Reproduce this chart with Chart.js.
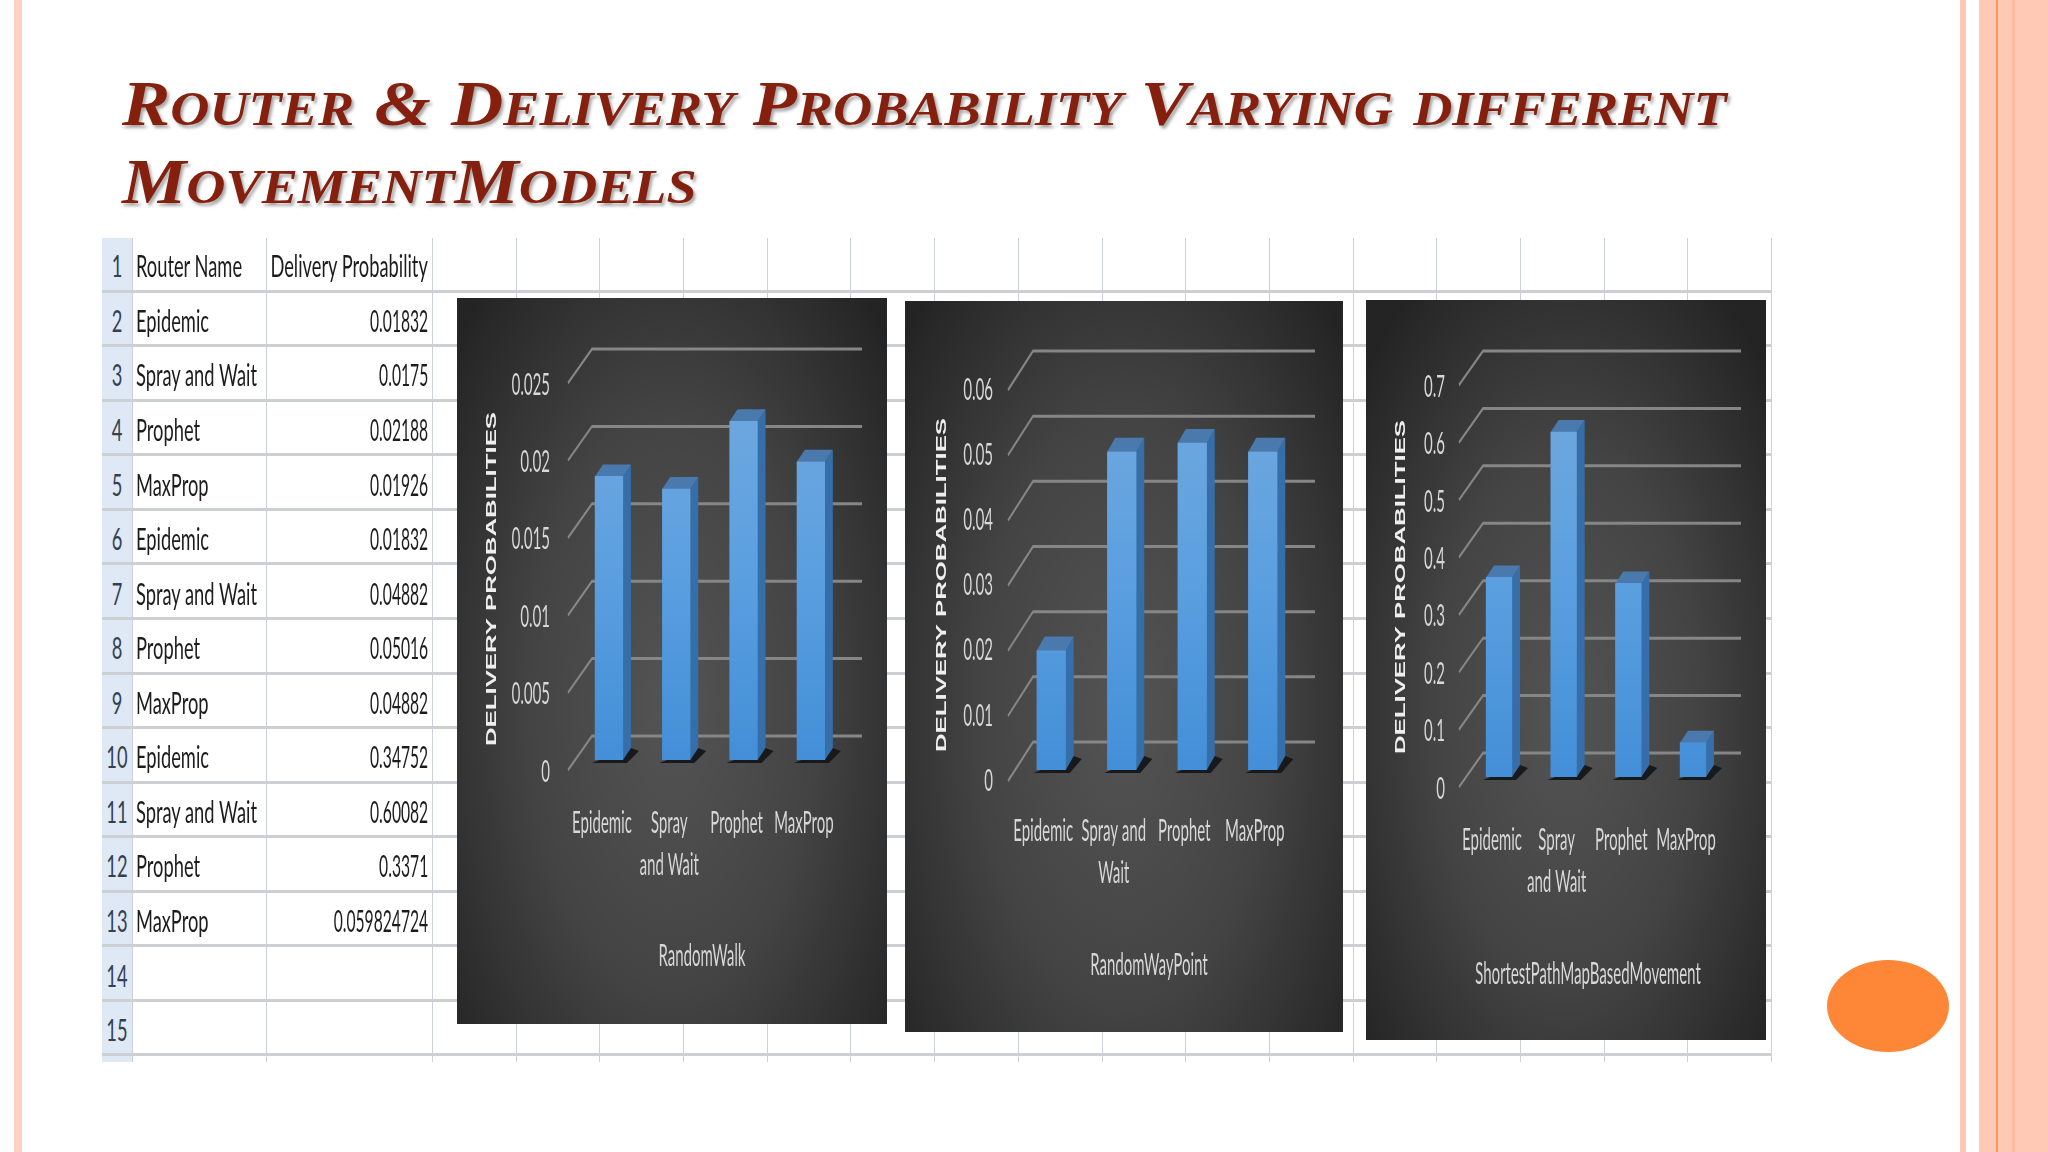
<!DOCTYPE html>
<html>
<head>
<meta charset="utf-8">
<title>Router & Delivery Probability</title>
<script src="https://cdn.jsdelivr.net/npm/chart.js@4"></script>
<style>
html, body { margin: 0; padding: 0; background: #fff; width: 2048px; height: 1152px; overflow: hidden; }
.stripe { position: absolute; top: 0; height: 1152px; }
h1 {
    position: absolute; left: 122px; top: 67px; margin: 0; white-space: nowrap; word-spacing: 6px;
    font: italic bold 48px/73px "Liberation Serif", serif; text-transform: uppercase;
    color: #85200f; text-shadow: 2px 3px 3px rgba(0, 0, 0, 0.35);
    transform: scaleX(1.13); transform-origin: left top;
}
h1 b { font-size: 64px; }
#planilha {
    position: absolute; left: 102px; top: 238px; display: grid;
    grid-template-columns: 31px 134px 166px repeat(16, 83.7px);
    grid-template-rows: repeat(15, 54.57px) 6px;
    font: 31px Lato, sans-serif; color: #1c1c1c; filter: blur(0.5px);
}
#planilha div {
    box-sizing: border-box; border-right: 1px solid #ccd0d8; border-bottom: 3px solid #cdd0d3;
    display: flex; align-items: center; overflow: visible; padding-top: 3px;
}
#planilha div.fim { border-bottom: 0; }
#planilha div.cab { background: #dfe8f5; color: #33414f; justify-content: center; }
#planilha div.dir { justify-content: flex-end; padding-right: 4px; }
#planilha div.esq { padding-left: 3px; }
#planilha span { flex: none; display: inline-block; transform: scaleX(0.59); }
#planilha .dir span.num { transform: scaleX(0.505); }
.cab span { transform-origin: center; }
.dir span { transform-origin: right center; }
.esq span { transform-origin: left center; }
canvas { position: absolute; transform-origin: left top; filter: blur(0.6px); }
#bola { position: absolute; left: 1827px; top: 960px; width: 122px; height: 92px; border-radius: 50%; background: #fe8637; }
</style>
</head>
<body>
<div class="stripe" style="left:14px;width:8px;background:#ffd0c4"></div>
<div class="stripe" style="left:1960px;width:6px;background:#ffc9b5"></div>
<div class="stripe" style="left:1979px;width:69px;background:#ffc9b5"></div>
<div class="stripe" style="left:1996px;width:2px;background:#fb9a5f"></div>
<div class="stripe" style="left:2012px;width:3px;background:#fdbb9f"></div>
<h1><b>R</b>outer <b>&amp;</b> <b>D</b>elivery <b>P</b>robability <b>V</b>arying different<br><b>M</b>ovement<b>M</b>odels</h1>
<div id="planilha"></div>
<canvas id="grafico1"></canvas>
<canvas id="grafico2"></canvas>
<canvas id="grafico3"></canvas>
<div id="bola"></div>
<script>
// Sheet contents
const colunaRouter = ["Router Name", "Epidemic", "Spray and Wait", "Prophet", "MaxProp", "Epidemic", "Spray and Wait", "Prophet", "MaxProp", "Epidemic", "Spray and Wait", "Prophet", "MaxProp"];
const colunaProb = ["Delivery Probability", "0.01832", "0.0175", "0.02188", "0.01926", "0.01832", "0.04882", "0.05016", "0.04882", "0.34752", "0.60082", "0.3371", "0.059824724"];

// Chart values
const valoresRandomWalk = [0.01832, 0.0175, 0.02188, 0.01926];
const valoresWayPoint = [0.01832, 0.04882, 0.05016, 0.04882];
const valoresShortest = [0.34752, 0.60082, 0.3371, 0.059824724];

const categorias1 = ["Epidemic", ["Spray", "and Wait"], "Prophet", "MaxProp"];
const categorias2 = ["Epidemic", ["Spray and", "Wait"], "Prophet", "MaxProp"];
const categorias3 = ["Epidemic", ["Spray", "and Wait"], "Prophet", "MaxProp"];

const ticks1 = [0, 0.005, 0.01, 0.015, 0.02, 0.025];
const ticks2 = [0, 0.01, 0.02, 0.03, 0.04, 0.05, 0.06];
const ticks3 = [0, 0.1, 0.2, 0.3, 0.4, 0.5, 0.6, 0.7];

const tituloY = "DELIVERY PROBABILITIES";

// The source picture is a screenshot squeezed sideways, so each canvas is drawn wide and squeezed by css
const APERTO = 0.5;
const FONTE = 'Lato, sans-serif';

// Page geometry of each panel, in screen px
const paineis = [
    { id: 'grafico1', nome: 'RandomWalk', valores: valoresRandomWalk, categorias: categorias1, ticks: ticks1,
      l: 457, r: 887, t: 298, b: 1024, plotL: 575.3, plotR: 844.5, plotT: 373, plotB: 760,
      frenteX: 568, fundoX: 592, gridR: 862, frenteY: 10, fundoY: -24, tickR: 554, tickDy: 12, catDx: -7, catPad: 35,
      barra: 28, dx: 8, dy: 12, tituloYx: 492, tituloYy: 579, tituloXx: 702, tituloXy: 956 },
    { id: 'grafico2', nome: 'RandomWayPoint', valores: valoresWayPoint, categorias: categorias2, ticks: ticks2,
      l: 905, r: 1343, t: 301, b: 1032, plotL: 1016, plotR: 1298, plotT: 379, plotB: 770,
      frenteX: 1008, fundoX: 1033, gridR: 1315, frenteY: 11, fundoY: -28, tickR: 997, tickDy: 11, catDx: -8, catPad: 33,
      barra: 29, dx: 8, dy: 14, tituloYx: 942, tituloYy: 585, tituloXx: 1149, tituloXy: 965 },
    { id: 'grafico3', nome: 'ShortestPathMapBasedMovement', valores: valoresShortest, categorias: categorias3, ticks: ticks3,
      l: 1366, r: 1766, t: 300, b: 1040, plotL: 1466.7, plotR: 1725.3, plotT: 375, plotB: 777,
      frenteX: 1459, fundoX: 1483, gridR: 1741, frenteY: 10, fundoY: -24, tickR: 1449, tickDy: 12, catDx: -7, catPad: 35,
      barra: 26, dx: 8, dy: 12, tituloYx: 1401, tituloYy: 587, tituloXx: 1588, tituloXy: 974 }
];

// Builds the sheet behind the charts
function montarPlanilha() {
    const caixa = document.getElementById('planilha');
    for (let lin = 0; lin < 16; lin++) {
        for (let col = 0; col < 19; col++) {
            const c = document.createElement('div');
            if (lin === 15) c.classList.add('fim');
            let texto = '';
            if (col === 0) {
                c.classList.add('cab');
                if (lin < 15) texto = String(lin + 1);
            } else if (col === 1) {
                c.classList.add('esq');
                texto = colunaRouter[lin] || '';
            } else if (col === 2) {
                c.classList.add('dir');
                texto = colunaProb[lin] || '';
            }
            if (texto) {
                const s = document.createElement('span');
                s.textContent = texto;
                if (col === 2 && lin > 0) s.classList.add('num');
                c.appendChild(s);
            }
            caixa.appendChild(c);
        }
    }
}

// Dark panel, fake 3d grid, bar sides and the free-placed axis titles
const plugin3d = {
    id: 'plugin3d',
    beforeDraw(chart, args, opts) {
        const ctx = chart.ctx;
        const w = chart.width, h = chart.height;
        const g = ctx.createRadialGradient(w / 2, h * 0.56, 0, w / 2, h * 0.56, Math.max(w, h) * 0.66);
        g.addColorStop(0, '#545454');
        g.addColorStop(0.5, '#444444');
        g.addColorStop(1, '#242424');
        ctx.save();
        ctx.fillStyle = g;
        ctx.fillRect(0, 0, w, h);
        ctx.restore();
    },
    beforeDatasetsDraw(chart, args, opts) {
        const p = opts.painel, ctx = chart.ctx;
        const esc = chart.scales.y;
        const offX = v => (v - p.l) / APERTO;
        ctx.save();
        ctx.strokeStyle = '#868686';
        ctx.lineWidth = 3;
        p.ticks.forEach(v => {
            const y = esc.getPixelForValue(v);
            ctx.beginPath();
            ctx.moveTo(offX(p.frenteX), y + p.frenteY);
            ctx.lineTo(offX(p.fundoX), y + p.fundoY);
            ctx.lineTo(offX(p.gridR), y + p.fundoY);
            ctx.stroke();
        });

        const dx = p.dx / APERTO, dy = p.dy;
        chart.getDatasetMeta(0).data.forEach(b => {
            const esq = b.x - b.width / 2, dir = b.x + b.width / 2;
            // shadow on the floor
            ctx.fillStyle = '#17191c';
            ctx.beginPath();
            ctx.moveTo(esq - 6, b.base + 3);
            ctx.lineTo(dir + 8, b.base + 3);
            ctx.lineTo(dir + dx + 16, b.base - dy + 3);
            ctx.lineTo(dir + dx, b.base - dy);
            ctx.closePath();
            ctx.fill();
            // side
            ctx.fillStyle = '#356ea8';
            ctx.beginPath();
            ctx.moveTo(dir, b.y);
            ctx.lineTo(dir + dx, b.y - dy);
            ctx.lineTo(dir + dx, b.base - dy);
            ctx.lineTo(dir, b.base);
            ctx.closePath();
            ctx.fill();
            // top
            ctx.fillStyle = '#4a79ad';
            ctx.beginPath();
            ctx.moveTo(esq, b.y);
            ctx.lineTo(esq + dx, b.y - dy);
            ctx.lineTo(dir + dx, b.y - dy);
            ctx.lineTo(dir, b.y);
            ctx.closePath();
            ctx.fill();
        });
        ctx.restore();
    },
    afterDraw(chart, args, opts) {
        const p = opts.painel, ctx = chart.ctx;
        ctx.save();
        ctx.fillStyle = '#d8d8d8';
        ctx.textAlign = 'center';
        ctx.textBaseline = 'middle';
        ctx.font = '30px ' + FONTE;
        ctx.fillText(p.nome, (p.tituloXx - p.l) / APERTO, p.tituloXy - p.t);
        ctx.translate((p.tituloYx - p.l) / APERTO, p.tituloYy - p.t);
        ctx.rotate(-Math.PI / 2);
        ctx.font = 'bold 29px "Liberation Sans", sans-serif';
        const largura = ctx.measureText(tituloY).width;
        ctx.scale(334 / largura, 1);
        ctx.fillStyle = '#eeeeee';
        ctx.fillText(tituloY, 0, 0);
        ctx.restore();
    }
};

function criarGrafico(p) {
    const canvas = document.getElementById(p.id);
    canvas.width = (p.r - p.l) / APERTO;
    canvas.height = p.b - p.t;
    canvas.style.left = p.l + 'px';
    canvas.style.top = p.t + 'px';
    canvas.style.transform = 'scaleX(' + APERTO + ')';

    return new Chart(canvas.getContext('2d'), {
        type: 'bar',
        data: {
            labels: p.categorias,
            datasets: [{
                data: p.valores,
                barThickness: p.barra / APERTO,
                backgroundColor: ctx => {
                    const area = ctx.chart.chartArea;
                    if (!area) return '#5ca0e0';
                    const g = ctx.chart.ctx.createLinearGradient(0, area.top, 0, area.bottom);
                    g.addColorStop(0, '#72a9de');
                    g.addColorStop(0.5, '#5ca0e0');
                    g.addColorStop(1, '#438fd8');
                    return g;
                }
            }]
        },
        options: {
            responsive: false,
            animation: false,
            layout: {
                padding: { left: 0, right: (p.r - p.plotR) / APERTO, top: p.plotT - p.t, bottom: 0 }
            },
            plugins: {
                legend: { display: false },
                tooltip: { enabled: false },
                plugin3d: { painel: p }
            },
            scales: {
                x: {
                    grid: { display: false },
                    border: { display: false },
                    afterFit: s => { s.height = p.b - p.plotB; },
                    ticks: {
                        color: '#d8d8d8',
                        font: { family: FONTE, size: 30, lineHeight: 1.38 },
                        padding: p.catPad,
                        labelOffset: p.catDx / APERTO,
                        autoSkip: false,
                        maxRotation: 0
                    }
                },
                y: {
                    min: 0,
                    max: p.ticks[p.ticks.length - 1],
                    grid: { display: false },
                    border: { display: false },
                    afterBuildTicks: s => { s.ticks = p.ticks.map(v => ({ value: v })); },
                    afterFit: s => { s.width = (p.plotL - p.l) / APERTO; },
                    ticks: {
                        color: '#d8d8d8',
                        font: { family: FONTE, size: 30 },
                        padding: (p.plotL - p.tickR) / APERTO,
                        labelOffset: p.tickDy,
                        callback: v => String(v)
                    }
                }
            }
        },
        plugins: [plugin3d]
    });
}

montarPlanilha();
paineis.forEach(criarGrafico);
</script>
</body>
</html>
